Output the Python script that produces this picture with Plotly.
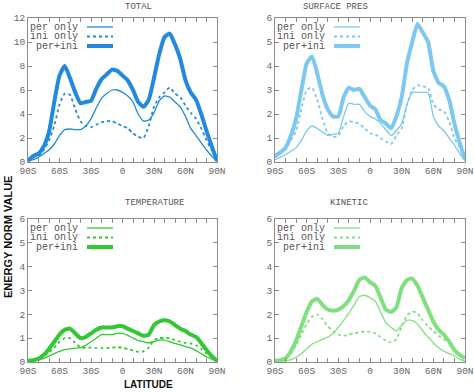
import plotly.graph_objects as go

lat = list(range(-90, 95, 5))
xtick_vals = [-90, -60, -30, 0, 30, 60, 90]
xtick_text = ["90S", "60S", "30S", "0", "30N", "60N", "90N"]

total_per = [0.1, 0.2, 0.4, 0.7, 1.0, 1.5, 2.2, 2.7, 2.75, 2.7, 2.7, 3.0, 3.6, 4.5, 5.3, 5.7, 6.0, 6.0, 5.8, 5.5, 5.0, 4.0, 3.4, 3.5, 4.1, 5.1, 5.5, 5.4, 5.0, 4.6, 3.8, 2.8, 2.2, 1.6, 1.0, 0.5, 0.05]
total_ini = [0.1, 0.4, 0.5, 1.0, 1.8, 3.0, 4.8, 5.7, 5.6, 4.4, 3.4, 3.0, 2.9, 3.1, 3.3, 3.4, 3.4, 3.2, 3.0, 2.8, 2.4, 2.1, 2.0, 3.0, 4.6, 5.4, 5.8, 6.2, 5.7, 5.4, 4.7, 4.1, 3.6, 2.8, 1.8, 1.0, 0.1]
total_both = [0.1, 0.5, 0.7, 1.3, 2.5, 5.0, 7.2, 8.0, 7.0, 5.8, 4.9, 5.0, 5.1, 6.1, 6.9, 7.3, 7.7, 7.6, 7.2, 6.8, 6.0, 5.0, 4.6, 5.2, 7.0, 9.0, 10.4, 10.7, 9.8, 8.6, 6.8, 5.8, 5.2, 4.0, 2.6, 1.3, 0.1]

sp_per = [0.1, 0.2, 0.3, 0.45, 0.6, 0.9, 1.3, 1.5, 1.4, 1.25, 1.1, 1.15, 1.2, 1.9, 2.45, 2.4, 2.4, 2.1, 1.9, 1.8, 1.6, 1.35, 1.1, 1.3, 1.6, 2.4, 2.9, 2.9, 2.9, 2.9, 1.9, 1.5, 1.3, 1.0, 0.7, 0.35, 0.05]
sp_ini = [0.2, 0.35, 0.5, 0.9, 1.3, 2.2, 3.0, 3.1, 2.6, 1.8, 1.2, 1.05, 1.1, 1.5, 1.7, 1.65, 1.6, 1.4, 1.2, 1.15, 1.0, 0.85, 0.75, 1.1, 1.4, 2.4, 3.0, 3.2, 3.15, 3.1, 2.4, 2.2, 2.1, 1.7, 1.0, 0.6, 0.05]
sp_both = [0.25, 0.4, 0.6, 1.1, 1.8, 3.0, 4.1, 4.4, 3.7, 2.8, 2.2, 1.9, 1.9, 2.7, 3.1, 3.0, 3.05, 2.7, 2.35, 2.2, 1.75, 1.6, 1.4, 1.9, 2.7, 4.1, 5.0, 5.75, 5.4, 5.0, 3.8, 3.3, 3.15, 2.6, 1.6, 0.8, 0.1]

t_per = [0.02, 0.05, 0.08, 0.15, 0.25, 0.35, 0.45, 0.52, 0.55, 0.58, 0.6, 0.7, 0.85, 1.0, 1.15, 1.15, 1.15, 1.2, 1.2, 1.12, 1.0, 0.9, 0.85, 0.8, 0.85, 0.92, 0.92, 0.85, 0.78, 0.72, 0.65, 0.58, 0.48, 0.35, 0.22, 0.12, 0.02]
t_ini = [0.03, 0.07, 0.12, 0.25, 0.4, 0.6, 0.85, 1.0, 1.0, 0.8, 0.6, 0.6, 0.6, 0.58, 0.58, 0.58, 0.6, 0.62, 0.6, 0.55, 0.48, 0.43, 0.45, 0.6, 0.92, 1.0, 1.02, 1.0, 0.92, 0.85, 0.8, 0.78, 0.7, 0.55, 0.35, 0.2, 0.03]
t_both = [0.05, 0.08, 0.15, 0.3, 0.55, 0.85, 1.15, 1.35, 1.4, 1.2, 1.0, 1.05, 1.2, 1.35, 1.45, 1.45, 1.45, 1.5, 1.5, 1.4, 1.3, 1.2, 1.1, 1.15, 1.55, 1.7, 1.75, 1.7, 1.55, 1.4, 1.3, 1.15, 1.05, 0.8, 0.5, 0.25, 0.05]

k_per = [0.02, 0.03, 0.05, 0.1, 0.2, 0.35, 0.55, 0.75, 0.85, 0.95, 1.05, 1.2, 1.45, 1.75, 2.05, 2.4, 2.75, 2.8, 2.7, 2.55, 2.1, 1.65, 1.45, 1.3, 1.55, 1.75, 1.75, 1.6, 1.3, 1.05, 0.8, 0.6, 0.45, 0.35, 0.25, 0.12, 0.03]
k_ini = [0.03, 0.05, 0.12, 0.35, 0.7, 1.15, 1.6, 1.9, 2.0, 1.8, 1.5, 1.3, 1.15, 1.1, 1.15, 1.2, 1.25, 1.28, 1.27, 1.2, 1.05, 0.9, 0.82, 0.95, 1.5, 1.95, 2.12, 2.05, 1.75, 1.5, 1.3, 1.1, 0.95, 0.8, 0.55, 0.3, 0.1]
k_both = [0.05, 0.08, 0.15, 0.45, 0.9, 1.5, 2.1, 2.55, 2.65, 2.4, 2.2, 2.15, 2.2, 2.35, 2.6, 3.0, 3.45, 3.55, 3.35, 3.2, 2.7, 2.2, 2.1, 2.3, 3.1, 3.45, 3.5, 3.2, 2.7, 2.2, 1.7, 1.35, 1.15, 0.85, 0.5, 0.3, 0.15]

panels = [
    ("TOTAL", "#2288e0", total_per, total_ini, total_both, 12, 2),
    ("SURFACE PRES", "#7cc8f0", sp_per, sp_ini, sp_both, 6, 1),
    ("TEMPERATURE", "#33c833", t_per, t_ini, t_both, 6, 1),
    ("KINETIC", "#80e080", k_per, k_ini, k_both, 6, 1),
]
legend_names = ["per only", "ini only", "per+ini"]

W, H = 474, 392
# pixel boxes (left, right, top, bottom)
boxes = [(28, 217, 18, 162), (275, 465, 18, 162), (28, 217, 219, 362), (275, 465, 219, 362)]

fig = go.Figure()
mono = "Liberation Mono, Courier New, monospace"
axis_col = "#8c8c8c"

for i, (title, col, per, ini, both, ymax, dy) in enumerate(panels):
    n = "" if i == 0 else str(i + 1)
    xa, ya = "x" + n, "y" + n
    l, r, t, b = boxes[i]
    styles = [dict(width=1.3, dash="solid"), dict(width=1.8, dash="dot"), dict(width=4, dash="solid")]
    for name, ys, st in zip(legend_names, [per, ini, both], styles):
        fig.add_trace(go.Scatter(x=lat, y=ys, mode="lines", name=name, xaxis=xa, yaxis=ya,
                                 line=dict(color=col, width=st["width"], dash=st["dash"], shape="spline", smoothing=0.5),
                                 showlegend=False, hoverinfo="skip"))
    common = dict(showline=True, linecolor=axis_col, linewidth=1, mirror="ticks", ticks="inside",
                  ticklen=4, tickcolor=axis_col, showgrid=False, zeroline=False, automargin=False,
                  tickfont=dict(family=mono, size=9.5, color="#666666"))
    fig.layout["xaxis" + n] = dict(domain=[l / W, r / W], anchor=ya, range=[-90, 90],
                                   tickvals=xtick_vals, ticktext=xtick_text,
                                   minor=dict(dtick=10, ticks="inside", ticklen=4, tickcolor=axis_col, tick0=-90), **common)
    fig.layout["yaxis" + n] = dict(domain=[1 - b / H, 1 - t / H], anchor=xa, range=[0, ymax], dtick=dy, **common)
    if i < 2:
        fig.add_annotation(text=title, xref="paper", yref="paper", x=(l + r) / 2 / W, y=1,
                           showarrow=False, font=dict(family=mono, size=9, color="#555555"), yanchor="top")
    else:
        fig.add_annotation(text=title, xref="paper", yref="paper", x=(l + r) / 2 / W, y=1 - 203 / H,
                           showarrow=False, font=dict(family=mono, size=9, color="#555555"), yanchor="middle")
    rows = [9, 18.5, 28]
    for j, (name, st) in enumerate(zip(legend_names, styles)):
        yy = 1 - rows[j] / (b - t)
        fig.add_annotation(text=name, xref=xa + " domain", yref=ya + " domain", x=52 / (r - l), y=yy,
                           xanchor="right", yanchor="middle", showarrow=False,
                           font=dict(family=mono, size=10, color="#555555"))
        fig.add_shape(type="line", xref=xa + " domain", yref=ya + " domain", x0=59 / (r - l), x1=85 / (r - l),
                      y0=yy, y1=yy, line=dict(color=col, width=st["width"], dash=st["dash"]))

fig.add_annotation(text="<b>ENERGY NORM VALUE</b>", xref="paper", yref="paper", x=0, xanchor="left", y=1 - 300 / H,
                   textangle=-90, showarrow=False, font=dict(family="Liberation Sans, Arial", size=11, color="#111111"))
fig.add_annotation(text="<b>LATITUDE</b>", xref="paper", yref="paper", x=122 / W, y=0, yanchor="bottom",
                   showarrow=False, font=dict(family="Liberation Sans, Arial", size=10, color="#111111"))

fig.update_layout(width=W, height=H, margin=dict(l=0, r=0, t=0, b=0), plot_bgcolor="white", paper_bgcolor="white",
                  showlegend=False)
fig.write_html("out.html", config={"displayModeBar": False, "staticPlot": True},
               post_script="document.body.style.margin='0px';")
